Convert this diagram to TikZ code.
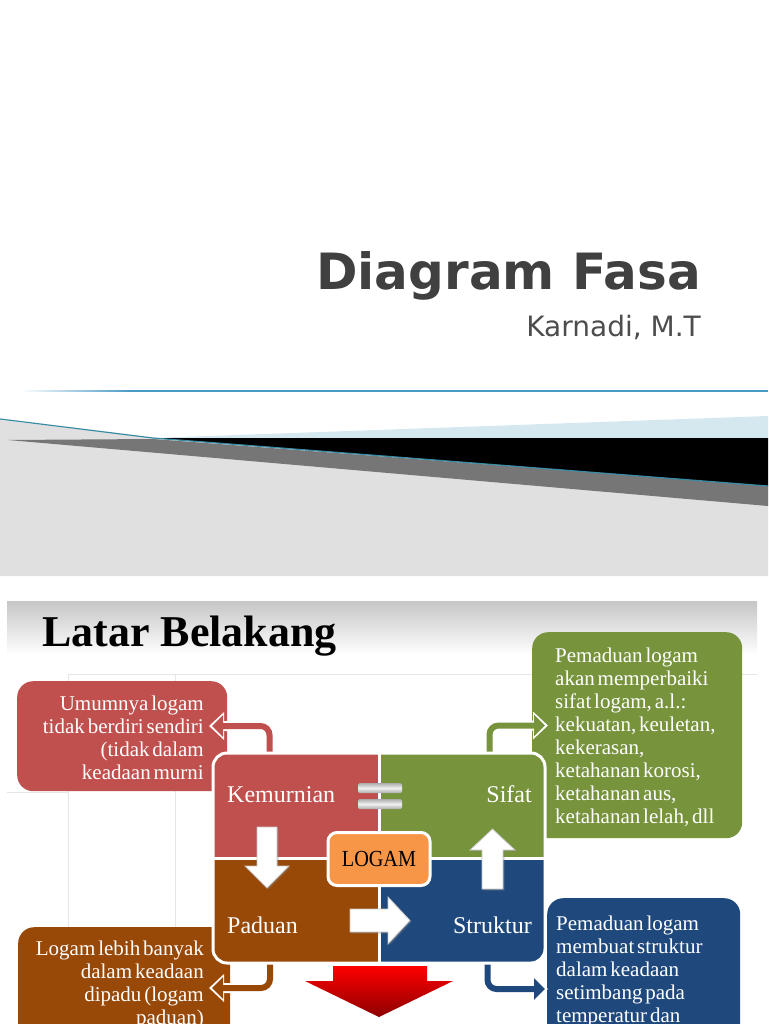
\documentclass[tikz,border=0pt]{standalone}
\usepackage{fontspec}
\setmainfont{Liberation Serif}
\newfontfamily\sansfont{DejaVu Sans}
\newfontfamily\bodyfont{Liberation Serif}[WordSpace=0.55]
\newfontfamily\logofont{Liberation Serif}[FakeStretch=0.88]
\usetikzlibrary{arrows.meta,shadows}
\definecolor{titlegray}{HTML}{404040}
\definecolor{authgray}{HTML}{4D4D4D}
\definecolor{lineblue}{HTML}{4A9AC6}
\definecolor{tealline}{HTML}{3A8CA5}
\definecolor{lightblue}{HTML}{D5E8EF}
\definecolor{bandgray}{HTML}{E0E0E0}
\definecolor{darkband}{HTML}{767676}
\definecolor{kemred}{HTML}{C0504D}
\definecolor{sifgreen}{HTML}{77933C}
\definecolor{padbrown}{HTML}{984807}
\definecolor{strblue}{HTML}{1F497D}
\definecolor{logorange}{HTML}{F79646}
\definecolor{gridline}{HTML}{E6E6E6}
\definecolor{bigred}{HTML}{E00000}
\tikzset{
  callout/.style={rounded corners=16pt, inner sep=0pt, anchor=north west},
  calltext/.style={font=\bodyfont\fontsize{21}{23}\selectfont, text=white, inner sep=0pt},
  quadbox/.style={inner sep=0pt, anchor=north west, minimum width=166pt, minimum height=105.5pt},
  quadlabel/.style={font=\bodyfont\fontsize{24}{27}\selectfont, text=white, inner sep=0pt},
  connwhite/.style={draw=white, line width=10pt, rounded corners=9pt, shorten >=-3pt, -{Triangle[length=15pt,width=27pt]}},
  conn/.style={line width=6pt, rounded corners=9pt, -{Triangle[length=11pt,width=21pt]}},
  blockarrow/.style={fill=white, draw=gray!45, line width=0.8pt, drop shadow={opacity=0.35,shadow xshift=1.5pt,shadow yshift=-1.5pt}},
  eqbar/.style={top color=gray!65, bottom color=gray!65, middle color=gray!12, rounded corners=1.5pt}
}
\begin{document}
\begin{tikzpicture}[x=1pt,y=-1pt]
\useasboundingbox (0,0) rectangle (768,1024);
\fill[white] (0,0) rectangle (768,1024);
% ---------- title slide ----------
\node[anchor=base east, inner sep=0pt, font=\sansfont\bfseries\fontsize{50}{60}\selectfont, text=titlegray] (title) at (701,289) {Diagram Fasa};
\node[anchor=base east, inner sep=0pt, font=\sansfont\fontsize{28}{34}\selectfont, text=authgray] (author) at (701,336) {Karnadi, M.T};
\shade[left color=white, right color=lineblue] (20,390.3) rectangle (130,391.7);
\fill[lineblue] (130,390.3) rectangle (768,391.7);
% decorative band
\fill[bandgray] (0,420) -- (153,438) -- (768,486) -- (768,576) -- (0,576) -- cycle;
\fill[darkband] (8,440) -- (153,439) -- (768,486) -- (768,506) -- cycle;
\fill[lightblue] (153,438) -- (768,416) -- (768,438) -- cycle;
\fill[black] (153,438) -- (768,438) -- (768,486) -- cycle;
\draw[tealline, line width=1.2pt] (0,419) -- (153,438) -- (768,486);
% ---------- second slide ----------
\shade[top color=gray!45, bottom color=white] (7,601) rectangle (757,655);
\draw[gridline, line width=1pt] (68,674) -- (757,674);
\draw[gridline, line width=1pt] (68,674) -- (68,1024);
\draw[gridline, line width=1pt] (175,674) -- (175,1024);
\draw[gridline, line width=1pt] (7,792) -- (68,792);
\node[anchor=base west, inner sep=0pt, font=\bfseries\fontsize{44}{50}\selectfont, text=black] (heading) at (42,646) {Latar Belakang};
% callouts
\node[callout, fill=kemred, minimum width=210pt, minimum height=110pt] (redbox) at (17,681) {};
\node[callout, fill=sifgreen, minimum width=210pt, minimum height=206pt] (greenbox) at (532,632) {};
\node[callout, fill=strblue, minimum width=193pt, minimum height=150pt] (bluebox) at (547,898) {};
\node[callout, fill=padbrown, minimum width=212pt, minimum height=130pt] (brownbox) at (18,927) {};
\node[calltext, align=right, anchor=north east] (redtext) at (204,696) {Umumnya logam\\tidak berdiri sendiri\\(tidak dalam\\keadaan murni};
\node[calltext, align=left, anchor=north west] (greentext) at (555,648) {Pemaduan logam\\akan memperbaiki\\sifat logam, a.l.:\\kekuatan, keuletan,\\kekerasan,\\ketahanan korosi,\\ketahanan aus,\\ketahanan lelah, dll};
\node[calltext, align=left, anchor=north west] (bluetext) at (556,916) {Pemaduan logam\\membuat struktur\\dalam keadaan\\setimbang pada\\temperatur dan};
\node[calltext, align=right, anchor=north east] (browntext) at (204,941) {Logam lebih banyak\\dalam keadaan\\dipadu (logam\\paduan)};
% connectors
\coordinate (kemTop) at (269.5,762);
\coordinate (redTip) at (212,726);
\coordinate (sifTop) at (489.5,762);
\coordinate (greenTip) at (545,725.5);
\coordinate (padBot) at (270,955);
\coordinate (brownTip) at (212,988);
\coordinate (strBot) at (487.5,955);
\coordinate (blueTip) at (545,989);
\draw[connwhite] (kemTop) |- (redTip);
\draw[conn, draw=kemred] (kemTop) |- (redTip);
\draw[connwhite] (sifTop) |- (greenTip);
\draw[conn, draw=sifgreen] (sifTop) |- (greenTip);
\draw[connwhite] (padBot) |- (brownTip);
\draw[conn, draw=padbrown] (padBot) |- (brownTip);
\draw[connwhite] (strBot) |- (blueTip);
\draw[conn, draw=strblue] (strBot) |- (blueTip);
% quadrant grid
\begin{scope}
\clip[rounded corners=14pt] (213,753) rectangle (545,963);
\node[quadbox, fill=kemred] (kem) at (213,753) {};
\node[quadbox, fill=sifgreen] (sif) at (379,753) {};
\node[quadbox, fill=padbrown] (pad) at (213,858) {};
\node[quadbox, fill=strblue] (str) at (379,858) {};
\end{scope}
\draw[white, line width=3pt] (379,753) -- (379,963);
\draw[white, line width=3pt] (213,858.5) -- (545,858.5);
\draw[white, line width=3pt, rounded corners=14pt] (213,753) rectangle (545,963);
\node[quadlabel, anchor=base west] (kemlabel) at (227,802) {Kemurnian};
\node[quadlabel, anchor=base east] (siflabel) at (532,802) {Sifat};
\node[quadlabel, anchor=base west] (padlabel) at (227,933) {Paduan};
\node[quadlabel, anchor=base east] (strlabel) at (532,933) {Struktur};
% equals sign
\shade[eqbar] (358,783) rectangle (402,793);
\shade[eqbar] (358,799) rectangle (402,809);
% white block arrows
\filldraw[blockarrow] (257,827) -- (277,827) -- (277,866) -- (289,866) -- (267,888) -- (245,866) -- (257,866) -- cycle;
\filldraw[blockarrow] (482,889) -- (503,889) -- (503,850) -- (515,850) -- (492.5,829) -- (470,850) -- (482,850) -- cycle;
\filldraw[blockarrow] (350,909) -- (388,909) -- (388,897) -- (410,920.5) -- (388,944) -- (388,932) -- (350,932) -- cycle;
% LOGAM
\node[fill=logorange, draw=white, line width=3pt, rounded corners=9pt, minimum width=102pt, minimum height=53pt, inner sep=0pt, font=\logofont\fontsize{23}{26}\selectfont, text=black] (logam) at (379,859) {LOGAM};
% big red arrow
\shade[top color=red, bottom color=red!55!black] (333,966) -- (427,966) -- (427,981) -- (453,981) -- (379,1017) -- (305,981) -- (333,981) -- cycle;
\begin{scope}
\clip (0,0) rectangle (768,1024);
\node[anchor=base west, inner sep=0pt, font=\bfseries\fontsize{36}{40}\selectfont, text=bigred] (redtitle) at (280,1050) {Diagram Fasa};
\end{scope}
\end{tikzpicture}
\end{document}
